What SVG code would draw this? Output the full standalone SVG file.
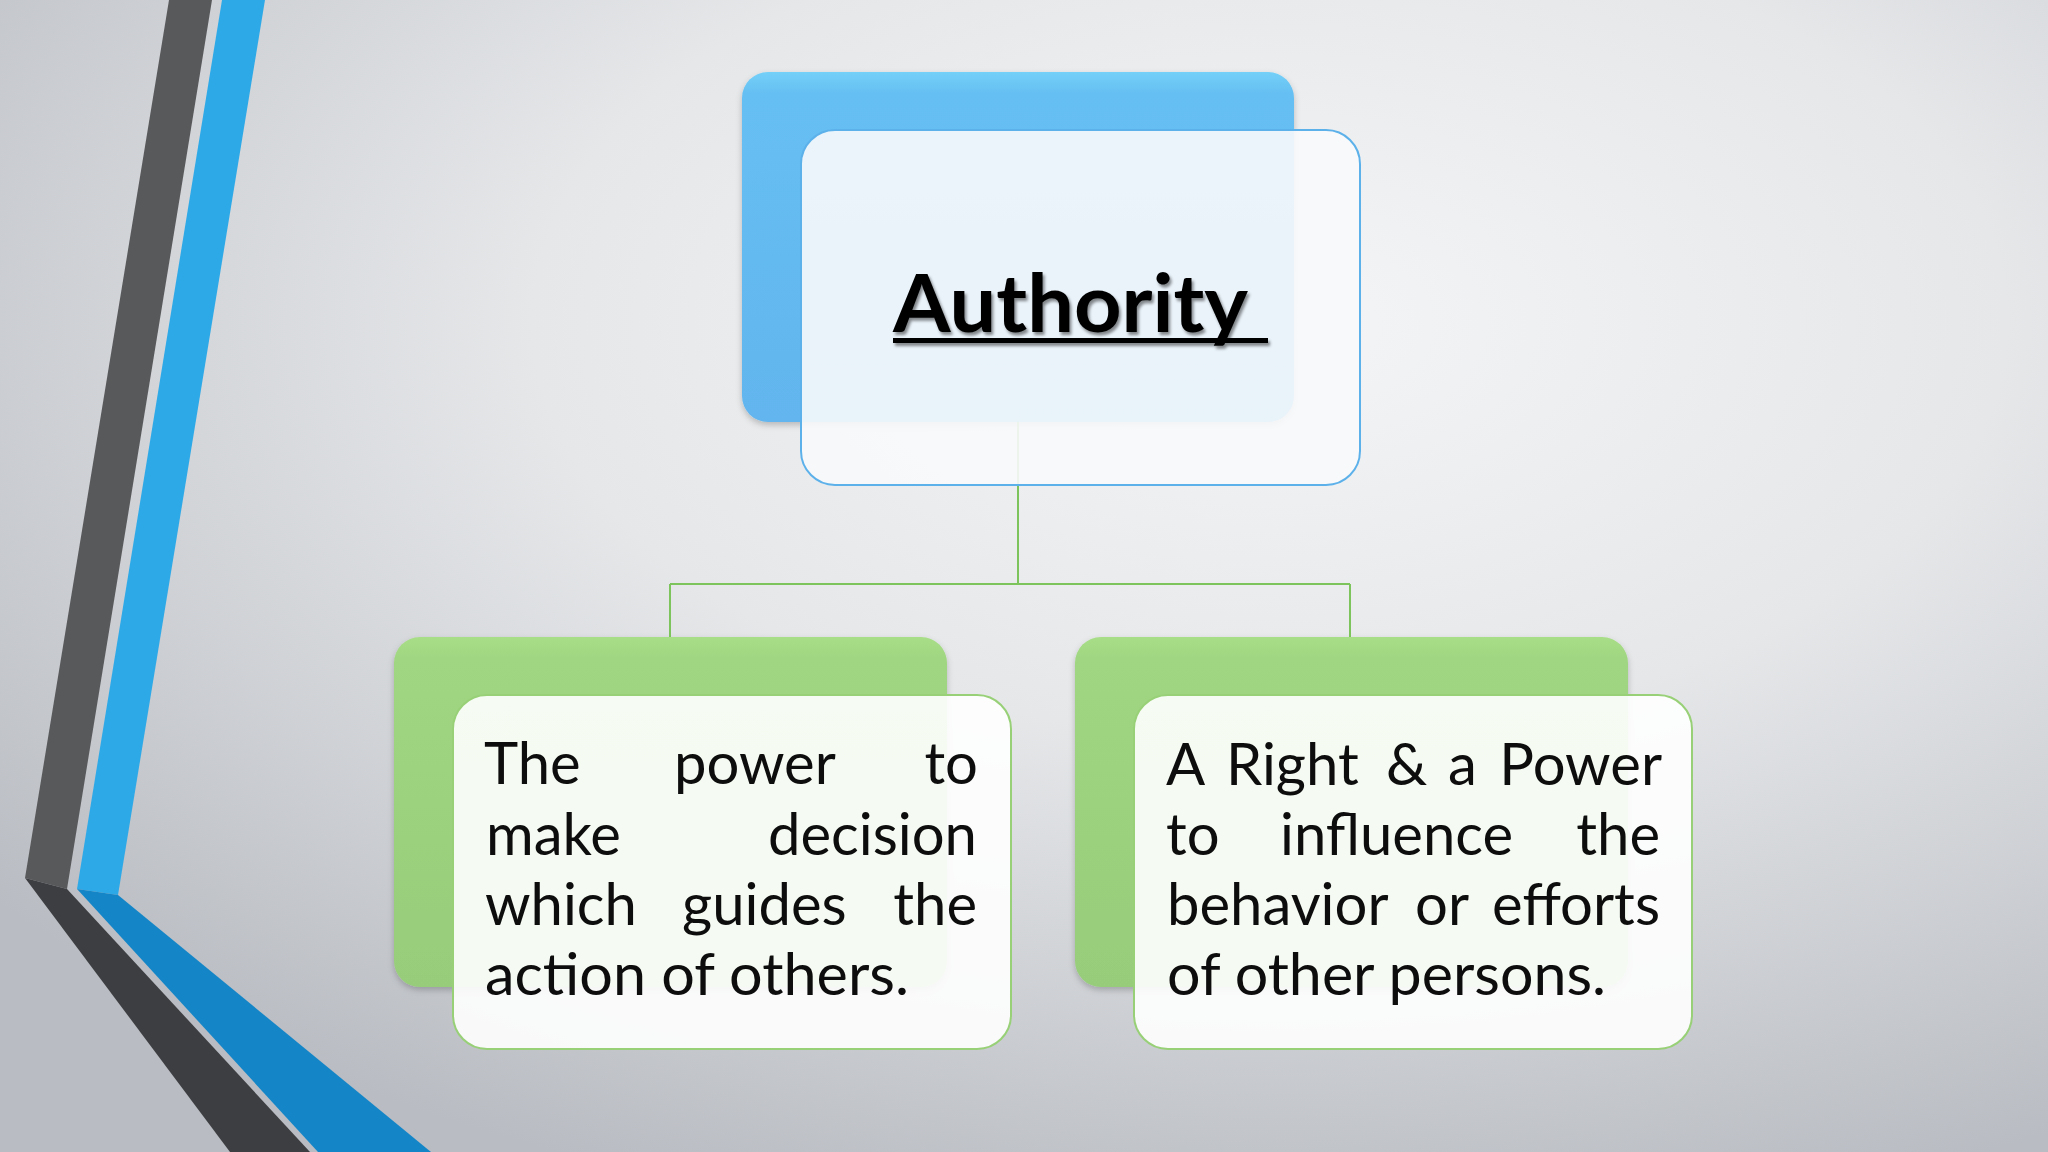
<svg xmlns="http://www.w3.org/2000/svg" width="2048" height="1152" viewBox="0 0 2048 1152">
  <defs>
    <radialGradient id="bg" cx="0.62" cy="0.28" r="0.8" gradientUnits="objectBoundingBox">
      <stop offset="0" stop-color="#f4f5f6"/>
      <stop offset="0.45" stop-color="#e5e7e9"/>
      <stop offset="1" stop-color="#b9bcc2"/>
    </radialGradient>
    <linearGradient id="blueFill" x1="0" y1="0" x2="0" y2="1">
      <stop offset="0" stop-color="#74d0f8"/>
      <stop offset="0.06" stop-color="#66bff2"/>
      <stop offset="1" stop-color="#62b5ee"/>
    </linearGradient>
    <linearGradient id="greenFill" x1="0" y1="0" x2="0" y2="1">
      <stop offset="0" stop-color="#a9de88"/>
      <stop offset="0.06" stop-color="#a0d681"/>
      <stop offset="1" stop-color="#97cd7a"/>
    </linearGradient>
    <filter id="boxShadow" x="-10%" y="-10%" width="120%" height="125%">
      <feDropShadow dx="0" dy="3" stdDeviation="3" flood-color="#000" flood-opacity="0.22"/>
    </filter>
    <filter id="textShadow" x="-5%" y="-20%" width="110%" height="140%">
      <feDropShadow dx="2" dy="3" stdDeviation="1.6" flood-color="#000" flood-opacity="0.45"/>
    </filter>
    <style>
      .body { font-family: Lato, "Open Sans", "Liberation Sans", sans-serif; font-size: 58px; fill: #0d0d0d; }
      .end { text-anchor: end; }
      .title { font-family: Lato, "Liberation Sans", sans-serif; font-weight: bold; font-size: 80px; fill: #000; }
      .front { stroke-width: 2; }
      .frontBlue { fill: #f8f9fb; fill-opacity: 0.9; stroke: #5cb1ea; }
      .frontGreen { fill: #ffffff; fill-opacity: 0.9; stroke: #98d077; }
      .conn { fill: none; stroke: #7dc45c; stroke-width: 2; }
    </style>
  </defs>

  <rect x="0" y="0" width="2048" height="1152" fill="url(#bg)"/>

  <g id="decoration">
    <polygon points="169,0 212,0 67,889 25,878" fill="#58595b"/>
    <polygon points="222,0 265,0 118,895 77,889" fill="#2ea9e8"/>
    <polygon points="25,878 67,889 310,1152 230,1152" fill="#3d3e41"/>
    <polygon points="77,889 118,895 431,1152 318,1152" fill="#1486c8"/>
  </g>

  <g id="node-authority-back">
    <rect x="742" y="72" width="552" height="350" rx="26" fill="url(#blueFill)" filter="url(#boxShadow)"/>
  </g>
  <g id="node-left-back">
    <rect x="394" y="637" width="553" height="350" rx="26" fill="url(#greenFill)" filter="url(#boxShadow)"/>
  </g>
  <g id="node-right-back">
    <rect x="1075" y="637" width="553" height="350" rx="26" fill="url(#greenFill)" filter="url(#boxShadow)"/>
  </g>

  <g id="connectors">
    <path class="conn" d="M1018,422 V584 M670,584 H1350 M670,584 V637 M1350,584 V637"/>
  </g>

  <g id="node-authority">
    <rect class="front frontBlue" x="801" y="130" width="559" height="355" rx="34"/>
    <g filter="url(#textShadow)">
      <text class="title" x="893" y="332" textLength="355" lengthAdjust="spacingAndGlyphs">Authority</text>
      <rect x="893" y="338" width="375" height="5" fill="#000"/>
    </g>
  </g>

  <g id="node-left">
    <rect class="front frontGreen" x="453" y="695" width="558" height="354" rx="34"/>
    <text class="body" y="784"><tspan x="484">The</tspan><tspan x="674">power</tspan></text>
    <text class="body end" x="978" y="784">to</text>
    <text class="body" x="486" y="855">make</text>
    <text class="body end" x="977" y="855">decision</text>
    <text class="body" y="925"><tspan x="485">which</tspan><tspan x="682">guides</tspan></text>
    <text class="body end" x="977" y="925">the</text>
    <text class="body" x="485" y="995" textLength="424" lengthAdjust="spacingAndGlyphs">action of others.</text>
  </g>

  <g id="node-right">
    <rect class="front frontGreen" x="1134" y="695" width="558" height="354" rx="34"/>
    <text class="body" y="785"><tspan x="1166">A</tspan><tspan x="1226">Right</tspan><tspan x="1386">&amp;</tspan><tspan x="1448">a</tspan></text>
    <text class="body end" x="1662" y="785">Power</text>
    <text class="body" y="855"><tspan x="1166">to</tspan><tspan x="1280">influence</tspan></text>
    <text class="body end" x="1660" y="855">the</text>
    <text class="body" y="925"><tspan x="1167">behavior</tspan><tspan x="1415">or</tspan></text>
    <text class="body end" x="1660" y="925">efforts</text>
    <text class="body" x="1167" y="995" textLength="439" lengthAdjust="spacingAndGlyphs">of other persons.</text>
  </g>
</svg>
